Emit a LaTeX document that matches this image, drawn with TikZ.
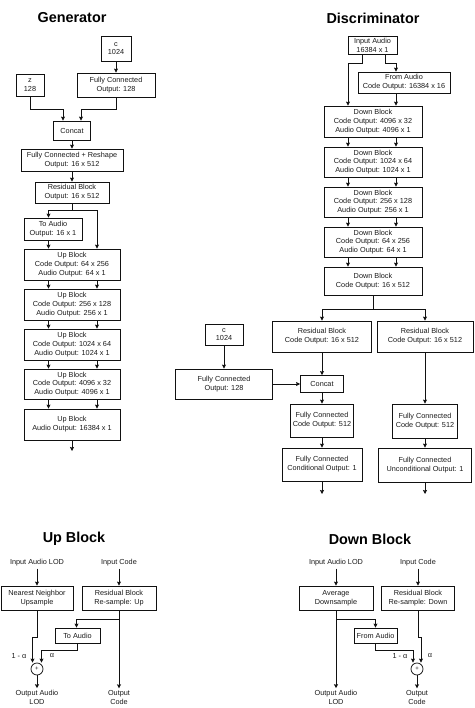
\documentclass[tikz,border=0pt]{standalone}
\usepackage{fontspec}
\setmainfont{Liberation Sans}
\usetikzlibrary{arrows.meta}
\definecolor{lncol}{HTML}{111111}
\definecolor{txcol}{HTML}{1A1A1A}
\tikzset{
  box/.style={draw=lncol, line width=0.75pt, rectangle, inner sep=0pt, align=center,
    font=\fontsize{7.3}{8.8}\selectfont, text=txcol},
  lbl/.style={inner sep=0pt, align=center, font=\fontsize{7.3}{8.8}\selectfont, text=txcol},
  ttl/.style={inner sep=0pt, font=\fontsize{14.4}{16}\selectfont\bfseries, text=black},
  arr/.style={draw=lncol, line width=0.75pt, -{Stealth[length=4pt,width=4pt,inset=0.6pt]}},
  plus/.style={draw=lncol, line width=0.75pt, circle, minimum size=12pt, inner sep=0pt,
    font=\fontsize{6}{6}\selectfont, text=txcol}
}
\begin{document}
\begin{tikzpicture}[x=1pt,y=-1pt]
\useasboundingbox (0,0) rectangle (474,708);

% ================= Generator =================
\node[ttl] (gtitle) at (72,18) {Generator};
\node[box, minimum width=30pt, minimum height=25pt] (gc) at (116,48.5) {c\\1024};
\node[box, minimum width=78pt, minimum height=24pt] (gfc) at (116,85) {Fully Connected\\Output: 128};
\node[box, minimum width=28pt, minimum height=22pt] (gz) at (30,85) {z\\128};
\node[box, minimum width=37pt, minimum height=19pt] (gcat) at (72,130.5) {Concat};
\node[box, minimum width=102pt, minimum height=22pt] (gfcr) at (72,160) {Fully Connected + Reshape\\Output: 16 x 512};
\node[box, minimum width=74pt, minimum height=21pt] (gres) at (72,192.5) {Residual Block\\Output: 16 x 512};
\node[box, minimum width=58pt, minimum height=22pt] (gta) at (53,229) {To Audio\\Output: 16 x 1};
\node[box, minimum width=96pt, minimum height=31pt] (gu1) at (72,264.5) {Up Block\\Code Output: 64 x 256\\Audio Output: 64 x 1};
\node[box, minimum width=96pt, minimum height=31pt] (gu2) at (72,304.5) {Up Block\\Code Output: 256 x 128\\Audio Output: 256 x 1};
\node[box, minimum width=96pt, minimum height=31pt] (gu3) at (72,344.5) {Up Block\\Code Output: 1024 x 64\\Audio Output: 1024 x 1};
\node[box, minimum width=96pt, minimum height=30pt] (gu4) at (72,384) {Up Block\\Code Output: 4096 x 32\\Audio Output: 4096 x 1};
\node[box, minimum width=96pt, minimum height=31pt] (gu5) at (72,424.5) {Up Block\\Audio Output: 16384 x 1};
\coordinate (gend) at (72,451);
\coordinate (gL) at (48.5,0);
\coordinate (gR) at (97,0);

\draw[arr] (gc) -- (gfc);
\draw[arr] (gz.south) -- ++(0,13) -| ([xshift=-9pt]gcat.north);
\draw[arr] (gfc.south) -- ++(0,12) -| ([xshift=9pt]gcat.north);
\draw[arr] (gcat) -- (gfcr);
\draw[arr] (gfcr) -- (gres);
\draw[arr] (gres.south) -- ++(0,7) -| (gL |- gta.north);
\draw[arr] (gres.south) -- ++(0,7) -| (gR |- gu1.north);
\draw[arr] (gL |- gta.south) -- (gL |- gu1.north);
\foreach \a/\b in {gu1/gu2, gu2/gu3, gu3/gu4, gu4/gu5} {
  \draw[arr] (gL |- \a.south) -- (gL |- \b.north);
  \draw[arr] (gR |- \a.south) -- (gR |- \b.north);
}
\draw[arr] (gu5.south) -- (gend);

% ================= Discriminator =================
\node[ttl] (dtitle) at (373,18) {Discriminator};
\node[box, minimum width=49pt, minimum height=18pt] (din) at (372.5,45) {Input Audio\\16384 x 1};
\node[box, minimum width=92pt, minimum height=21pt] (dfa) at (404,82.5) {From Audio\\Code Output: 16384 x 16};
\node[box, minimum width=98pt, minimum height=31pt] (dd1) at (373,121.5) {Down Block\\Code Output: 4096 x 32\\Audio Output: 4096 x 1};
\node[box, minimum width=98pt, minimum height=30pt] (dd2) at (373,162) {Down Block\\Code Output: 1024 x 64\\Audio Output: 1024 x 1};
\node[box, minimum width=98pt, minimum height=30pt] (dd3) at (373,202) {Down Block\\Code Output: 256 x 128\\Audio Output: 256 x 1};
\node[box, minimum width=98pt, minimum height=30pt] (dd4) at (373,242) {Down Block\\Code Output: 64 x 256\\Audio Output: 64 x 1};
\node[box, minimum width=98pt, minimum height=28pt] (dd5) at (373,281) {Down Block\\Code Output: 16 x 512};
\coordinate (dL) at (348,0);
\coordinate (dR) at (396,0);

\node[box, minimum width=99pt, minimum height=31pt] (drl) at (322,336.5) {Residual Block\\Code Output: 16 x 512};
\node[box, minimum width=96pt, minimum height=31pt] (drr) at (425,336.5) {Residual Block\\Code Output: 16 x 512};
\node[box, minimum width=38pt, minimum height=21pt] (dc) at (224,334.5) {c\\1024};
\node[box, minimum width=97pt, minimum height=30pt] (dfc) at (224,384) {Fully Connected\\Output: 128};
\node[box, minimum width=43pt, minimum height=17pt] (dcat) at (322,384) {Concat};
\node[box, minimum width=63pt, minimum height=33pt] (dfcl) at (322,420.5) {Fully Connected\\Code Output: 512};
\node[box, minimum width=80pt, minimum height=33pt] (dcond) at (322,464.5) {Fully Connected\\Conditional Output: 1};
\node[box, minimum width=65pt, minimum height=34pt] (dfcr) at (425,421) {Fully Connected\\Code Output: 512};
\node[box, minimum width=93pt, minimum height=34pt] (duncond) at (425,465) {Fully Connected\\Unconditional Output: 1};
\coordinate (dendl) at (322,494);
\coordinate (dendr) at (425,494);

\draw[arr] ([xshift=-10.5pt]din.south) -- ++(0,9) -| (dL |- dd1.north);
\draw[arr] ([xshift=12.5pt]din.south) -- ++(0,9) -| (dR |- dfa.north);
\draw[arr] (dR |- dfa.south) -- (dR |- dd1.north);
\foreach \a/\b in {dd1/dd2, dd2/dd3, dd3/dd4, dd4/dd5} {
  \draw[arr] (dL |- \a.south) -- (dL |- \b.north);
  \draw[arr] (dR |- \a.south) -- (dR |- \b.north);
}
\draw[arr] (dd5.south) -- ++(0,14) -| (drl.north);
\draw[arr] (dd5.south) -- ++(0,14) -| (drr.north);
\draw[arr] (dc) -- (dfc);
\draw[arr] (dfc.east) -- (dcat.west);
\draw[arr] (drl) -- (dcat);
\draw[arr] (dcat) -- (dfcl);
\draw[arr] (dfcl) -- (dcond);
\draw[arr] (dcond.south) -- (dendl);
\draw[arr] (drr) -- (dfcr);
\draw[arr] (dfcr) -- (duncond);
\draw[arr] (duncond.south) -- (dendr);

% ================= Up Block =================
\node[ttl] (utitle) at (74,539) {Up Block};
\node[lbl] (uinA) at (37,563) {Input Audio LOD};
\node[lbl] (uinC) at (119,563) {Input Code};
\node[box, minimum width=72pt, minimum height=24pt] (unn) at (37,598) {Nearest Neighbor\\Upsample};
\node[box, minimum width=74pt, minimum height=24pt] (ures) at (119,598) {Residual Block\\Re-sample: Up};
\node[box, minimum width=45pt, minimum height=15pt] (uta) at (77.5,635.5) {To Audio};
\node[plus] (uplus) at (37,669) {+};
\node[lbl] (ula) at (19,656) {1 - α};
\node[lbl] (ulb) at (52,656) {α};
\node[lbl] (uoutA) at (37,697.5) {Output Audio\\LOD};
\node[lbl] (uoutC) at (119,697.5) {Output\\Code};

\draw[arr] ([yshift=-2pt]uinA.south) -- (unn.north);
\draw[arr] ([yshift=-2pt]uinC.south) -- (ures.north);
\draw[arr] (ures.south) -- ([yshift=2pt]uoutC.north);
\draw[arr] (ures.south) -- ++(0,9) -| ([xshift=-1pt]uta.north);
\draw[arr] ([xshift=-0.5pt]uta.south) -- ++(0,7) -| ([xshift=4.5pt]uplus.north);
\draw[arr] (unn.south) -- ++(0,27) -| ([xshift=-4.5pt]uplus.north);
\draw[arr] (uplus.south) -- ([yshift=2pt]uoutA.north);

% ================= Down Block =================
\node[ttl] (dbtitle) at (370,539) {Down Block};
\node[lbl] (dinA) at (336,563) {Input Audio LOD};
\node[lbl] (dinC) at (418,563) {Input Code};
\node[box, minimum width=74pt, minimum height=24pt] (davg) at (336,598) {Average\\Downsample};
\node[box, minimum width=73pt, minimum height=24pt] (dres2) at (418,598) {Residual Block\\Re-sample: Down};
\node[box, minimum width=43pt, minimum height=15pt] (dfa2) at (375.5,635.5) {From Audio};
\node[plus] (dplus) at (417,669) {+};
\node[lbl] (dla) at (400,656) {1 - α};
\node[lbl] (dlb) at (430,656) {α};
\node[lbl] (doutA) at (336,697.5) {Output Audio\\LOD};
\node[lbl] (doutC) at (417,697.5) {Output\\Code};

\draw[arr] ([yshift=-2pt]dinA.south) -- (davg.north);
\draw[arr] ([yshift=-2pt]dinC.south) -- (dres2.north);
\draw[arr] (davg.south) -- ([yshift=2pt]doutA.north);
\draw[arr] (davg.south) -- ++(0,9) -| (dfa2.north);
\draw[arr] (dfa2.south) -- ++(0,7) -| ([xshift=-4pt]dplus.north);
\draw[arr] (dres2.south) -- ++(0,27) -| ([xshift=4pt]dplus.north);
\draw[arr] (dplus.south) -- ([yshift=2pt]doutC.north);
\end{tikzpicture}
\end{document}
